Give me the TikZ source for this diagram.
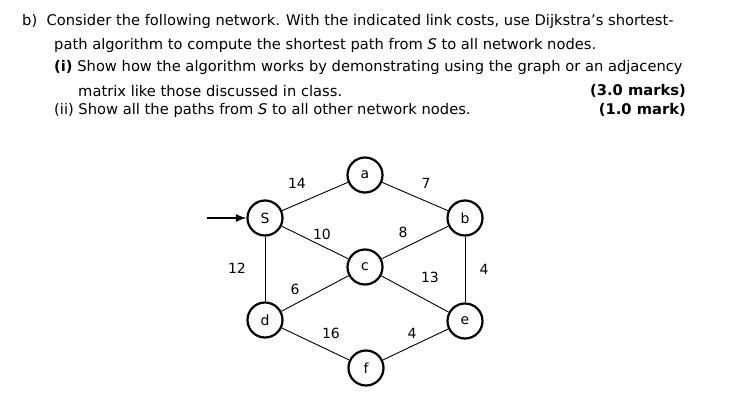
\documentclass[tikz,border=0pt]{standalone}
\usepackage{fontspec}
\setmainfont{DejaVu Sans}
\begin{document}
\begin{tikzpicture}[x=1pt,y=-1pt,
  nd/.style={circle,draw,line width=2.2pt,minimum size=35pt,inner sep=0pt,font=\fontsize{14}{16}\selectfont},
  ed/.style={draw,line width=0.9pt},
  lb/.style={font=\fontsize{14}{16}\selectfont},
  tx/.style={anchor=west,inner sep=0pt,font=\fontsize{14.7}{17}\selectfont}]
\useasboundingbox (0,0) rectangle (740,402);
\node[tx] (t1) at (22,21) {b)\ \ Consider the following network. With the indicated link costs, use Dijkstra's shortest-};
\node[tx] (t2) at (54,45) {path algorithm to compute the shortest path from \textit{S} to all network nodes.};
\node[tx] (t3) at (54,67) {\textbf{(i)} Show how the algorithm works by demonstrating using the graph or an adjacency};
\node[tx] (t4) at (78,91) {matrix like those discussed in class.};
\node[tx,anchor=east] (m1) at (686,91) {\textbf{(3.0 marks)}};
\node[tx] (t5) at (54,110) {(ii) Show all the paths from \textit{S} to all other network nodes.};
\node[tx,anchor=east] (m2) at (686,110) {\textbf{(1.0 mark)}};
\node[nd] (a) at (365,175) {a};
\node[nd] (S) at (265,218) {S};
\node[nd] (b) at (465,218) {b};
\node[nd] (c) at (365,267) {c};
\node[nd] (d) at (265,320) {d};
\node[nd] (e) at (465,321) {e};
\node[nd] (f) at (366,368) {f};
\draw[ed] (S)--(a); \draw[ed] (a)--(b); \draw[ed] (S)--(c); \draw[ed] (c)--(b);
\draw[ed] (S)--(d); \draw[ed] (b)--(e); \draw[ed] (d)--(c); \draw[ed] (c)--(e);
\draw[ed] (d)--(f); \draw[ed] (f)--(e);
\coordinate (in) at (207,218);
\draw[line width=2.6pt,-latex] (in)--(S);
\node[lb] (l1) at (297,183) {14};
\node[lb] (l2) at (426,183) {7};
\node[lb] (l3) at (322,234) {10};
\node[lb] (l4) at (403,232) {8};
\node[lb] (l5) at (237,268) {12};
\node[lb] (l6) at (484,269) {4};
\node[lb] (l7) at (295,289) {6};
\node[lb] (l8) at (430,277) {13};
\node[lb] (l9) at (331,333) {16};
\node[lb] (l10) at (412,333) {4};
\end{tikzpicture}
\end{document}
